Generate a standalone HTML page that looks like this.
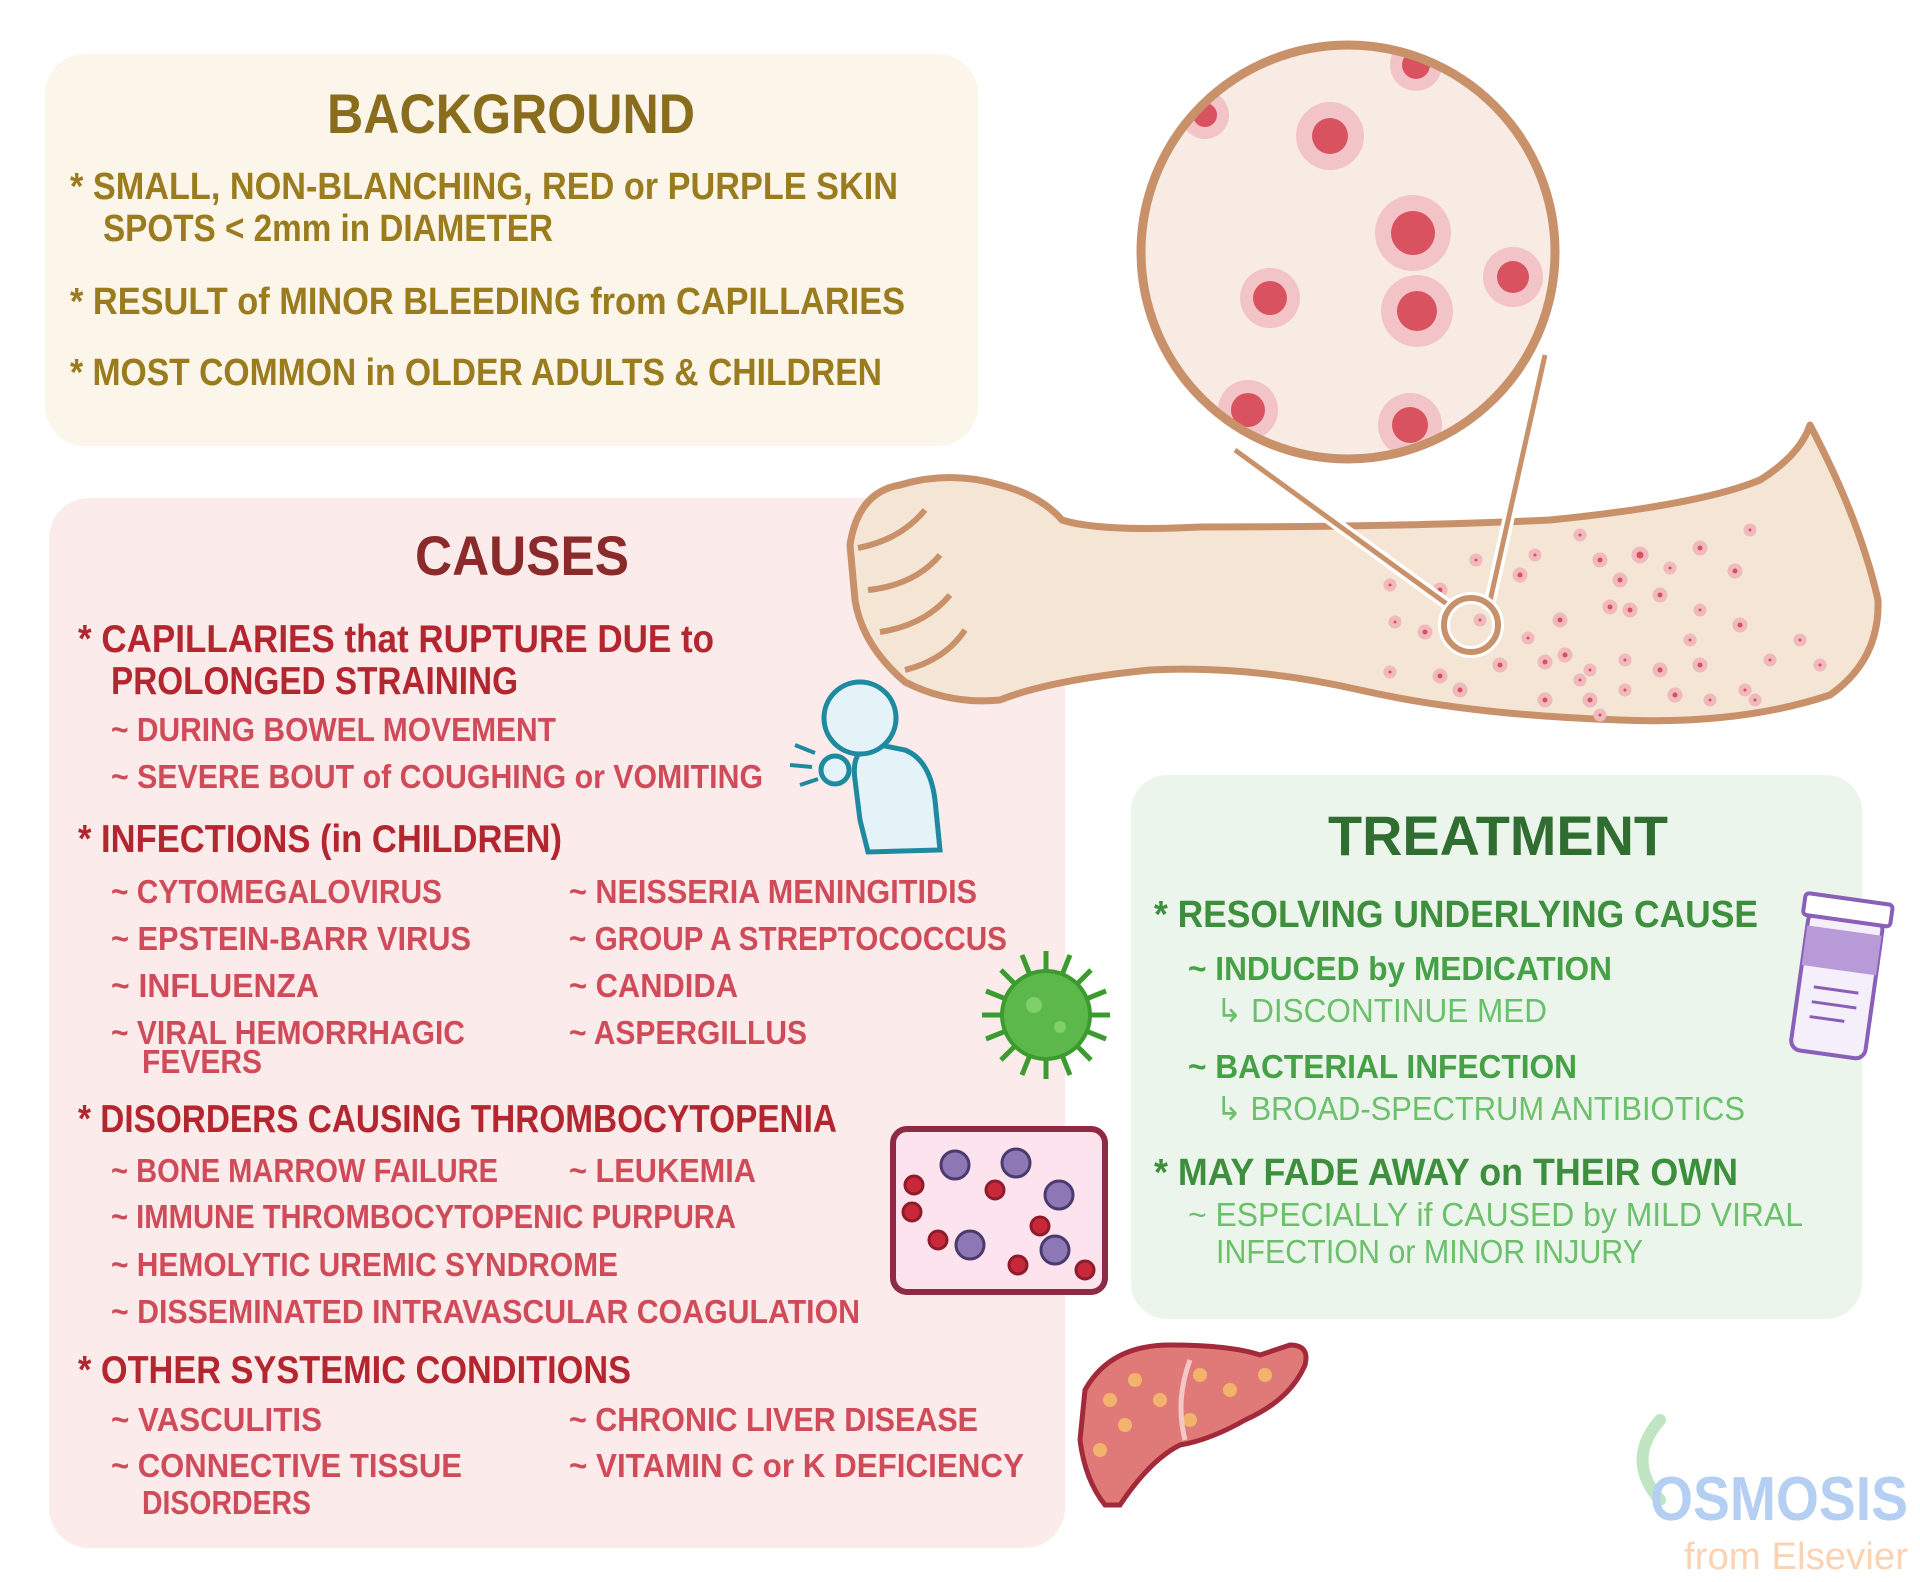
<!DOCTYPE html>
<html><head><meta charset="utf-8"><style>html,body{margin:0;padding:0;background:#fff}svg{display:block}</style></head>
<body>
<svg width="1920" height="1582" viewBox="0 0 1920 1582" xmlns="http://www.w3.org/2000/svg" font-family="Liberation Sans, sans-serif" font-weight="bold">
<rect width="1920" height="1582" fill="#fff"/>
<!-- boxes -->
<rect x="45" y="54" width="933" height="392" rx="40" fill="#fbf5ea"/>
<rect x="49" y="498" width="1016" height="1050" rx="40" fill="#fbeceb"/>
<rect x="1131" y="775" width="731" height="544" rx="36" fill="#ebf5ec"/>

<!-- BACKGROUND -->
<g fill="#9a7b1e">
<text x="327" y="133" font-size="56" textLength="368" lengthAdjust="spacingAndGlyphs" fill="#8a6d1c">BACKGROUND</text>
<text x="70" y="199" font-size="38" textLength="828" lengthAdjust="spacingAndGlyphs">* SMALL, NON-BLANCHING, RED or PURPLE SKIN</text>
<text x="103" y="241" font-size="38" textLength="450" lengthAdjust="spacingAndGlyphs">SPOTS &lt; 2mm in DIAMETER</text>
<text x="70" y="314" font-size="38" textLength="835" lengthAdjust="spacingAndGlyphs">* RESULT of MINOR BLEEDING from CAPILLARIES</text>
<text x="70" y="385" font-size="38" textLength="812" lengthAdjust="spacingAndGlyphs">* MOST COMMON in OLDER ADULTS &amp; CHILDREN</text>
</g>

<!-- CAUSES -->
<text x="415" y="575" font-size="56" textLength="214" lengthAdjust="spacingAndGlyphs" fill="#8b2a2a">CAUSES</text>
<g fill="#b3262f" font-size="39">
<text x="78" y="652" textLength="636" lengthAdjust="spacingAndGlyphs">* CAPILLARIES that RUPTURE DUE to</text>
<text x="111" y="694" textLength="407" lengthAdjust="spacingAndGlyphs">PROLONGED STRAINING</text>
<text x="78" y="852" textLength="484" lengthAdjust="spacingAndGlyphs">* INFECTIONS (in CHILDREN)</text>
<text x="78" y="1132" textLength="759" lengthAdjust="spacingAndGlyphs">* DISORDERS CAUSING THROMBOCYTOPENIA</text>
<text x="78" y="1383" textLength="553" lengthAdjust="spacingAndGlyphs">* OTHER SYSTEMIC CONDITIONS</text>
</g>
<g fill="#d04b5a" font-size="33">
<text x="111" y="741" textLength="445" lengthAdjust="spacingAndGlyphs">~ DURING BOWEL MOVEMENT</text>
<text x="111" y="788" textLength="652" lengthAdjust="spacingAndGlyphs">~ SEVERE BOUT of COUGHING or VOMITING</text>
<text x="111" y="903" textLength="331" lengthAdjust="spacingAndGlyphs">~ CYTOMEGALOVIRUS</text>
<text x="111" y="950" textLength="360" lengthAdjust="spacingAndGlyphs">~ EPSTEIN-BARR VIRUS</text>
<text x="111" y="997" textLength="208" lengthAdjust="spacingAndGlyphs">~ INFLUENZA</text>
<text x="111" y="1044" textLength="354" lengthAdjust="spacingAndGlyphs">~ VIRAL HEMORRHAGIC</text>
<text x="142" y="1073" textLength="120" lengthAdjust="spacingAndGlyphs">FEVERS</text>
<text x="569" y="903" textLength="408" lengthAdjust="spacingAndGlyphs">~ NEISSERIA MENINGITIDIS</text>
<text x="569" y="950" textLength="438" lengthAdjust="spacingAndGlyphs">~ GROUP A STREPTOCOCCUS</text>
<text x="569" y="997" textLength="169" lengthAdjust="spacingAndGlyphs">~ CANDIDA</text>
<text x="569" y="1044" textLength="238" lengthAdjust="spacingAndGlyphs">~ ASPERGILLUS</text>
<text x="111" y="1182" textLength="387" lengthAdjust="spacingAndGlyphs">~ BONE MARROW FAILURE</text>
<text x="569" y="1182" textLength="187" lengthAdjust="spacingAndGlyphs">~ LEUKEMIA</text>
<text x="111" y="1228" textLength="625" lengthAdjust="spacingAndGlyphs">~ IMMUNE THROMBOCYTOPENIC PURPURA</text>
<text x="111" y="1276" textLength="507" lengthAdjust="spacingAndGlyphs">~ HEMOLYTIC UREMIC SYNDROME</text>
<text x="111" y="1323" textLength="749" lengthAdjust="spacingAndGlyphs">~ DISSEMINATED INTRAVASCULAR COAGULATION</text>
<text x="111" y="1431" textLength="211" lengthAdjust="spacingAndGlyphs">~ VASCULITIS</text>
<text x="569" y="1431" textLength="409" lengthAdjust="spacingAndGlyphs">~ CHRONIC LIVER DISEASE</text>
<text x="111" y="1477" textLength="351" lengthAdjust="spacingAndGlyphs">~ CONNECTIVE TISSUE</text>
<text x="569" y="1477" textLength="455" lengthAdjust="spacingAndGlyphs">~ VITAMIN C or K DEFICIENCY</text>
<text x="142" y="1514" textLength="169" lengthAdjust="spacingAndGlyphs">DISORDERS</text>
</g>

<!-- TREATMENT -->
<text x="1328" y="855" font-size="56" textLength="340" lengthAdjust="spacingAndGlyphs" fill="#2f6e30">TREATMENT</text>
<g fill="#3d8f3d" font-size="38">
<text x="1154" y="927" textLength="604" lengthAdjust="spacingAndGlyphs">* RESOLVING UNDERLYING CAUSE</text>
<text x="1154" y="1185" textLength="584" lengthAdjust="spacingAndGlyphs">* MAY FADE AWAY on THEIR OWN</text>
</g>
<g fill="#46a046" font-size="33">
<text x="1188" y="980" textLength="424" lengthAdjust="spacingAndGlyphs">~ INDUCED by MEDICATION</text>
<text x="1188" y="1078" textLength="389" lengthAdjust="spacingAndGlyphs">~ BACTERIAL INFECTION</text>
</g>
<g fill="#6cc06c" font-size="33" font-weight="normal">
<text x="1216" y="1022" textLength="331" lengthAdjust="spacingAndGlyphs">↳ DISCONTINUE MED</text>
<text x="1216" y="1120" textLength="529" lengthAdjust="spacingAndGlyphs">↳ BROAD-SPECTRUM ANTIBIOTICS</text>
<text x="1188" y="1226" textLength="615" lengthAdjust="spacingAndGlyphs">~ ESPECIALLY if CAUSED by MILD VIRAL</text>
<text x="1216" y="1263" textLength="427" lengthAdjust="spacingAndGlyphs">INFECTION or MINOR INJURY</text>
</g>

<!-- ARM -->
<path d="M850,545 Q858,492 900,485 Q950,470 1000,485 Q1040,495 1062,520 Q1100,532 1200,527 Q1400,527 1550,520 Q1700,505 1760,480 Q1800,455 1810,425 Q1860,520 1878,600 Q1880,660 1830,695 Q1740,725 1620,720 Q1470,715 1360,690 Q1250,665 1150,670 Q1050,680 1000,700 Q950,705 905,682 Q862,645 855,600 Z" fill="#f5e5d5" stroke="#c9916a" stroke-width="7" stroke-linejoin="round"/>
<path d="M858,548 Q900,540 925,510 M868,590 Q915,585 940,555 M880,632 Q925,625 950,595 M905,670 Q945,660 965,630" fill="none" stroke="#c9916a" stroke-width="6"/>
<g fill="#d9505e" stroke="#f0b9bd" stroke-width="5">
<circle cx="1390" cy="585" r="4"/><circle cx="1440" cy="590" r="5"/><circle cx="1395" cy="622" r="4"/><circle cx="1425" cy="632" r="5"/><circle cx="1390" cy="672" r="4"/><circle cx="1440" cy="676" r="5"/><circle cx="1476" cy="560" r="4"/><circle cx="1520" cy="575" r="5"/><circle cx="1535" cy="555" r="4"/><circle cx="1580" cy="535" r="4"/><circle cx="1600" cy="560" r="5"/><circle cx="1620" cy="580" r="5"/><circle cx="1640" cy="555" r="6"/><circle cx="1670" cy="568" r="4"/><circle cx="1700" cy="548" r="5"/><circle cx="1735" cy="571" r="5"/><circle cx="1750" cy="530" r="4"/><circle cx="1560" cy="620" r="5"/><circle cx="1610" cy="607" r="5"/><circle cx="1630" cy="610" r="5"/><circle cx="1660" cy="595" r="5"/><circle cx="1700" cy="610" r="4"/><circle cx="1740" cy="625" r="5"/><circle cx="1528" cy="638" r="4"/><circle cx="1545" cy="662" r="5"/><circle cx="1565" cy="655" r="5"/><circle cx="1590" cy="670" r="4"/><circle cx="1625" cy="660" r="4"/><circle cx="1660" cy="670" r="5"/><circle cx="1700" cy="665" r="5"/><circle cx="1745" cy="690" r="4"/><circle cx="1770" cy="660" r="4"/><circle cx="1800" cy="640" r="4"/><circle cx="1545" cy="700" r="5"/><circle cx="1590" cy="700" r="5"/><circle cx="1625" cy="690" r="4"/><circle cx="1675" cy="695" r="5"/><circle cx="1710" cy="700" r="4"/><circle cx="1755" cy="700" r="4"/><circle cx="1600" cy="715" r="4"/><circle cx="1480" cy="620" r="4"/><circle cx="1500" cy="665" r="5"/><circle cx="1460" cy="690" r="5"/><circle cx="1820" cy="665" r="4"/><circle cx="1580" cy="680" r="4"/><circle cx="1690" cy="640" r="4"/>
</g>
<!-- magnifier -->
<line x1="1235" y1="450" x2="1455" y2="610" stroke="#fff" stroke-width="12"/>
<line x1="1545" y1="355" x2="1488" y2="610" stroke="#fff" stroke-width="12"/>
<line x1="1235" y1="450" x2="1455" y2="610" stroke="#c9916a" stroke-width="5"/>
<line x1="1545" y1="355" x2="1488" y2="610" stroke="#c9916a" stroke-width="5"/>
<circle cx="1471" cy="625" r="27" fill="none" stroke="#fff" stroke-width="12"/>
<circle cx="1471" cy="625" r="27" fill="none" stroke="#c9916a" stroke-width="6"/>
<circle cx="1348" cy="252" r="207" fill="#f7ebe4" stroke="#fff" stroke-width="16"/>
<clipPath id="mc"><circle cx="1348" cy="252" r="207"/></clipPath>
<g clip-path="url(#mc)">
<rect x="1140" y="45" width="420" height="420" fill="#f7ebe4"/>
<g fill="#f2c4c8"><circle cx="1330" cy="136" r="34"/><circle cx="1413" cy="233" r="38"/><circle cx="1270" cy="298" r="30"/><circle cx="1417" cy="311" r="36"/><circle cx="1513" cy="277" r="30"/><circle cx="1248" cy="410" r="30"/><circle cx="1410" cy="425" r="32"/><circle cx="1205" cy="115" r="24"/><circle cx="1416" cy="65" r="26"/></g>
<g fill="#d9525f"><circle cx="1330" cy="136" r="18"/><circle cx="1413" cy="233" r="22"/><circle cx="1270" cy="298" r="17"/><circle cx="1417" cy="311" r="20"/><circle cx="1513" cy="277" r="16"/><circle cx="1248" cy="410" r="17"/><circle cx="1410" cy="425" r="18"/><circle cx="1205" cy="115" r="12"/><circle cx="1416" cy="65" r="14"/></g>
</g>
<circle cx="1348" cy="252" r="207" fill="none" stroke="#c9916a" stroke-width="9"/>

<!-- coughing figure -->
<g stroke="#1d8aa0" stroke-width="5" fill="#e3f3f8">
<path d="M855,780 Q850,745 880,745 L905,750 Q930,760 935,800 L940,850 L868,852 L860,820 Z"/>
<circle cx="860" cy="718" r="36"/>
<circle cx="835" cy="770" r="14"/>
</g>
<g stroke="#1d8aa0" stroke-width="4" fill="none"><path d="M795,745 l20,8 M790,765 l22,2 M800,785 l18,-6"/></g>

<!-- virus -->
<g transform="translate(1046,1015)">
<g stroke="#3c9b2e" stroke-width="5">
<line x1="-64" y1="0" x2="64" y2="0"/><line x1="0" y1="-64" x2="0" y2="64"/><line x1="-45" y1="-45" x2="45" y2="45"/><line x1="-45" y1="45" x2="45" y2="-45"/><line x1="-60" y1="-24" x2="60" y2="24"/><line x1="-24" y1="-60" x2="24" y2="60"/><line x1="-60" y1="24" x2="60" y2="-24"/><line x1="24" y1="-60" x2="-24" y2="60"/>
</g>
<circle r="44" fill="#5cb84a" stroke="#3c9b2e" stroke-width="4"/>
<circle cx="-12" cy="-10" r="8" fill="#7fd06a"/><circle cx="14" cy="12" r="6" fill="#7fd06a"/>
</g>

<!-- blood box -->
<rect x="893" y="1129" width="212" height="163" rx="14" fill="#fde3ee" stroke="#8d2b45" stroke-width="6"/>
<g fill="#c9283a" stroke="#8d1c2a" stroke-width="3"><circle cx="914" cy="1185" r="9"/><circle cx="912" cy="1212" r="9"/><circle cx="995" cy="1190" r="9"/><circle cx="1040" cy="1226" r="9"/><circle cx="938" cy="1240" r="9"/><circle cx="1018" cy="1265" r="9"/><circle cx="1085" cy="1270" r="9"/></g>
<g fill="#8d77b5" stroke="#4a3a6e" stroke-width="3"><circle cx="955" cy="1165" r="14"/><circle cx="1016" cy="1163" r="14"/><circle cx="1059" cy="1195" r="14"/><circle cx="970" cy="1245" r="14"/><circle cx="1055" cy="1250" r="14"/></g>

<!-- liver -->
<path d="M1085,1390 Q1110,1345 1170,1345 Q1230,1345 1260,1355 L1290,1345 Q1310,1345 1305,1365 Q1290,1400 1245,1420 Q1210,1440 1180,1445 Q1150,1460 1120,1505 L1105,1505 Q1085,1480 1080,1440 Z" fill="#e07a78" stroke="#a32a3a" stroke-width="5"/>
<g fill="#f2b36d"><circle cx="1110" cy="1400" r="7"/><circle cx="1135" cy="1380" r="7"/><circle cx="1125" cy="1425" r="7"/><circle cx="1160" cy="1400" r="7"/><circle cx="1200" cy="1375" r="7"/><circle cx="1230" cy="1390" r="7"/><circle cx="1265" cy="1375" r="7"/><circle cx="1100" cy="1450" r="7"/><circle cx="1190" cy="1420" r="7"/></g>
<path d="M1190,1360 Q1175,1400 1185,1440" fill="none" stroke="#f4c6c6" stroke-width="5"/>

<!-- pill bottle -->
<g transform="rotate(8 1837 980)">
<rect x="1800" y="915" width="75" height="140" rx="10" fill="#f4effa" stroke="#8a5fb8" stroke-width="4"/>
<rect x="1800" y="930" width="75" height="40" fill="#b89ad8"/>
<rect x="1794" y="898" width="88" height="22" rx="4" fill="#fff" stroke="#8a5fb8" stroke-width="4"/>
<g stroke="#8a5fb8" stroke-width="3"><line x1="1815" y1="990" x2="1860" y2="990"/><line x1="1815" y1="1005" x2="1860" y2="1005"/><line x1="1815" y1="1020" x2="1850" y2="1020"/></g>
</g>

<!-- logo -->
<path d="M1660,1500 Q1625,1460 1660,1420" fill="none" stroke="#bfe5c2" stroke-width="12" stroke-linecap="round"/>
<text x="1650" y="1520" font-size="62" textLength="258" lengthAdjust="spacingAndGlyphs" fill="#b5cff2">OSMOSIS</text>
<text x="1684" y="1569" font-size="38" font-weight="normal" textLength="224" lengthAdjust="spacingAndGlyphs" fill="#fbd3b3">from Elsevier</text>
</svg>
</body></html>
